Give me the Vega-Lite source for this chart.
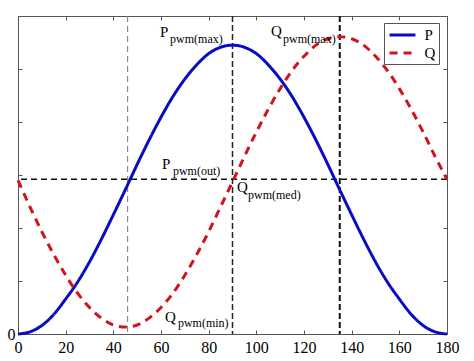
{
  "$schema": "https://vega.github.io/schema/vega-lite/v6.json",
  "width": 429,
  "height": 318,
  "autosize": "none",
  "padding": {"left": 18, "top": 16, "right": 27, "bottom": 27},
  "background": "white",
  "config": {
    "view": {"stroke": "#555555", "strokeWidth": 1},
    "font": "Liberation Serif",
    "axis": {
      "grid": false,
      "domain": false,
      "tickColor": "#555555",
      "tickSize": -4,
      "labelFont": "Liberation Serif",
      "labelFontSize": 16,
      "labelColor": "black",
      "labelFlush": false,
      "title": null
    }
  },
  "datasets": {
    "curves": [
      {"angle": 0, "series": "P", "value": 0.0},
      {"angle": 5, "series": "P", "value": 0.04},
      {"angle": 10, "series": "P", "value": 0.16},
      {"angle": 15, "series": "P", "value": 0.37},
      {"angle": 20, "series": "P", "value": 0.66},
      {"angle": 25, "series": "P", "value": 0.98},
      {"angle": 30, "series": "P", "value": 1.36},
      {"angle": 35, "series": "P", "value": 1.79},
      {"angle": 40, "series": "P", "value": 2.25},
      {"angle": 45, "series": "P", "value": 2.72},
      {"angle": 50, "series": "P", "value": 3.2},
      {"angle": 55, "series": "P", "value": 3.66},
      {"angle": 60, "series": "P", "value": 4.09},
      {"angle": 65, "series": "P", "value": 4.48},
      {"angle": 70, "series": "P", "value": 4.81},
      {"angle": 75, "series": "P", "value": 5.08},
      {"angle": 80, "series": "P", "value": 5.29},
      {"angle": 85, "series": "P", "value": 5.41},
      {"angle": 90, "series": "P", "value": 5.45},
      {"angle": 95, "series": "P", "value": 5.41},
      {"angle": 100, "series": "P", "value": 5.29},
      {"angle": 105, "series": "P", "value": 5.08},
      {"angle": 110, "series": "P", "value": 4.81},
      {"angle": 115, "series": "P", "value": 4.48},
      {"angle": 120, "series": "P", "value": 4.09},
      {"angle": 125, "series": "P", "value": 3.66},
      {"angle": 130, "series": "P", "value": 3.2},
      {"angle": 135, "series": "P", "value": 2.72},
      {"angle": 140, "series": "P", "value": 2.25},
      {"angle": 145, "series": "P", "value": 1.79},
      {"angle": 150, "series": "P", "value": 1.36},
      {"angle": 155, "series": "P", "value": 0.98},
      {"angle": 160, "series": "P", "value": 0.66},
      {"angle": 165, "series": "P", "value": 0.37},
      {"angle": 170, "series": "P", "value": 0.16},
      {"angle": 175, "series": "P", "value": 0.04},
      {"angle": 180, "series": "P", "value": 0.0},
      {"angle": 0, "series": "Q", "value": 2.9},
      {"angle": 5, "series": "Q", "value": 2.4},
      {"angle": 10, "series": "Q", "value": 1.93},
      {"angle": 15, "series": "Q", "value": 1.5},
      {"angle": 20, "series": "Q", "value": 1.11},
      {"angle": 25, "series": "Q", "value": 0.77},
      {"angle": 30, "series": "Q", "value": 0.5},
      {"angle": 35, "series": "Q", "value": 0.3},
      {"angle": 40, "series": "Q", "value": 0.17},
      {"angle": 45, "series": "Q", "value": 0.13},
      {"angle": 50, "series": "Q", "value": 0.17},
      {"angle": 55, "series": "Q", "value": 0.3},
      {"angle": 60, "series": "Q", "value": 0.5},
      {"angle": 65, "series": "Q", "value": 0.77},
      {"angle": 70, "series": "Q", "value": 1.11},
      {"angle": 75, "series": "Q", "value": 1.5},
      {"angle": 80, "series": "Q", "value": 1.93},
      {"angle": 85, "series": "Q", "value": 2.4},
      {"angle": 90, "series": "Q", "value": 2.87},
      {"angle": 95, "series": "Q", "value": 3.35},
      {"angle": 100, "series": "Q", "value": 3.81},
      {"angle": 105, "series": "Q", "value": 4.24},
      {"angle": 110, "series": "Q", "value": 4.63},
      {"angle": 115, "series": "Q", "value": 4.97},
      {"angle": 120, "series": "Q", "value": 5.24},
      {"angle": 125, "series": "Q", "value": 5.45},
      {"angle": 130, "series": "Q", "value": 5.57},
      {"angle": 135, "series": "Q", "value": 5.61},
      {"angle": 140, "series": "Q", "value": 5.57},
      {"angle": 145, "series": "Q", "value": 5.45},
      {"angle": 150, "series": "Q", "value": 5.24},
      {"angle": 155, "series": "Q", "value": 4.97},
      {"angle": 160, "series": "Q", "value": 4.63},
      {"angle": 165, "series": "Q", "value": 4.24},
      {"angle": 170, "series": "Q", "value": 3.81},
      {"angle": 175, "series": "Q", "value": 3.35},
      {"angle": 180, "series": "Q", "value": 2.92}
    ],
    "vrefs": [
      {"name": "qmin", "angle": 46},
      {"name": "peak", "angle": 90},
      {"name": "qmax", "angle": 135}
    ],
    "hrefs": [
      {"name": "out", "value": 2.92}
    ],
    "labels": [
      {"main": "P", "sub": "pwm(max)", "x": 59.6, "y": 5.6, "sx": 63.8, "sy": 5.5},
      {"main": "Q", "sub": "pwm(max)", "x": 106.2, "y": 5.62, "sx": 111.2, "sy": 5.5},
      {"main": "P", "sub": "pwm(out)", "x": 60.4, "y": 3.12, "sx": 65.0, "sy": 3.0},
      {"main": "Q", "sub": "pwm(med)", "x": 91.9, "y": 2.68, "sx": 96.5, "sy": 2.54},
      {"main": "Q", "sub": "pwm(min)", "x": 61.7, "y": 0.23, "sx": 67.1, "sy": 0.13}
    ]
  },
  "layer": [
    {
      "data": {"name": "vrefs"},
      "transform": [{"filter": "datum.name == 'qmin'"}],
      "mark": {"type": "rule", "color": "#777777", "strokeWidth": 1, "strokeDash": [6, 4]},
      "encoding": {
        "x": {"field": "angle", "type": "quantitative", "scale": {"domain": [0, 180], "nice": false},
              "axis": {"orient": "top", "labels": false, "values": [0, 20, 40, 60, 80, 100, 120, 140, 160, 180]}}
      }
    },
    {
      "data": {"name": "vrefs"},
      "transform": [{"filter": "datum.name == 'peak'"}],
      "mark": {"type": "rule", "color": "#222222", "strokeWidth": 1.5, "strokeDash": [6, 3]},
      "encoding": {"x": {"field": "angle", "type": "quantitative", "axis": null}}
    },
    {
      "data": {"name": "vrefs"},
      "transform": [{"filter": "datum.name == 'qmax'"}],
      "mark": {"type": "rule", "color": "#111111", "strokeWidth": 2, "strokeDash": [6, 3]},
      "encoding": {"x": {"field": "angle", "type": "quantitative", "axis": null}}
    },
    {
      "data": {"name": "hrefs"},
      "mark": {"type": "rule", "color": "#111111", "strokeWidth": 1.5, "strokeDash": [6, 4]},
      "encoding": {
        "y": {"field": "value", "type": "quantitative", "scale": {"domain": [0, 6], "nice": false},
              "axis": {"orient": "right", "labels": false, "values": [0, 1, 2, 3, 4, 5, 6]}}
      }
    },
    {
      "data": {"name": "curves"},
      "mark": {"type": "line", "strokeWidth": 3, "interpolate": "monotone"},
      "encoding": {
        "x": {"field": "angle", "type": "quantitative",
              "axis": {"orient": "bottom", "values": [0, 20, 40, 60, 80, 100, 120, 140, 160, 180], "labelPadding": 9}},
        "y": {"field": "value", "type": "quantitative",
              "axis": {"orient": "left", "values": [0, 1, 2, 3, 4, 5, 6], "labelExpr": "datum.value == 0 ? '0' : ''", "labelPadding": 7}},
        "color": {"field": "series", "type": "nominal",
                  "scale": {"domain": ["P", "Q"], "range": ["#0b0bc4", "#d0141c"]},
                  "legend": {"orient": "none", "legendX": 366, "legendY": 7, "title": null,
                             "symbolType": "M-1.73,0H1.73", "symbolOffset": 6.5,
                             "symbolSize": 225, "symbolStrokeWidth": 3, "labelFontSize": 15,
                             "labelFont": "Liberation Serif", "labelColor": "black",
                             "strokeColor": "#555555", "fillColor": "white", "padding": 3,
                             "rowPadding": 1, "labelOffset": 13}},
        "strokeDash": {"field": "series", "type": "nominal",
                       "scale": {"domain": ["P", "Q"], "range": [[1, 0], [8, 6]]},
                       "legend": null}
      }
    },
    {
      "data": {"name": "labels"},
      "mark": {"type": "text", "fontSize": 15, "align": "left", "baseline": "alphabetic", "color": "black", "font": "Liberation Serif"},
      "encoding": {
        "x": {"field": "x", "type": "quantitative", "axis": null},
        "y": {"field": "y", "type": "quantitative", "axis": null},
        "text": {"field": "main"}
      }
    },
    {
      "data": {"name": "labels"},
      "mark": {"type": "text", "fontSize": 12, "align": "left", "baseline": "alphabetic", "color": "black", "font": "Liberation Serif"},
      "encoding": {
        "x": {"field": "sx", "type": "quantitative", "axis": null},
        "y": {"field": "sy", "type": "quantitative", "axis": null},
        "text": {"field": "sub"}
      }
    }
  ],
  "resolve": {"axis": {"x": "independent", "y": "independent"}}
}
